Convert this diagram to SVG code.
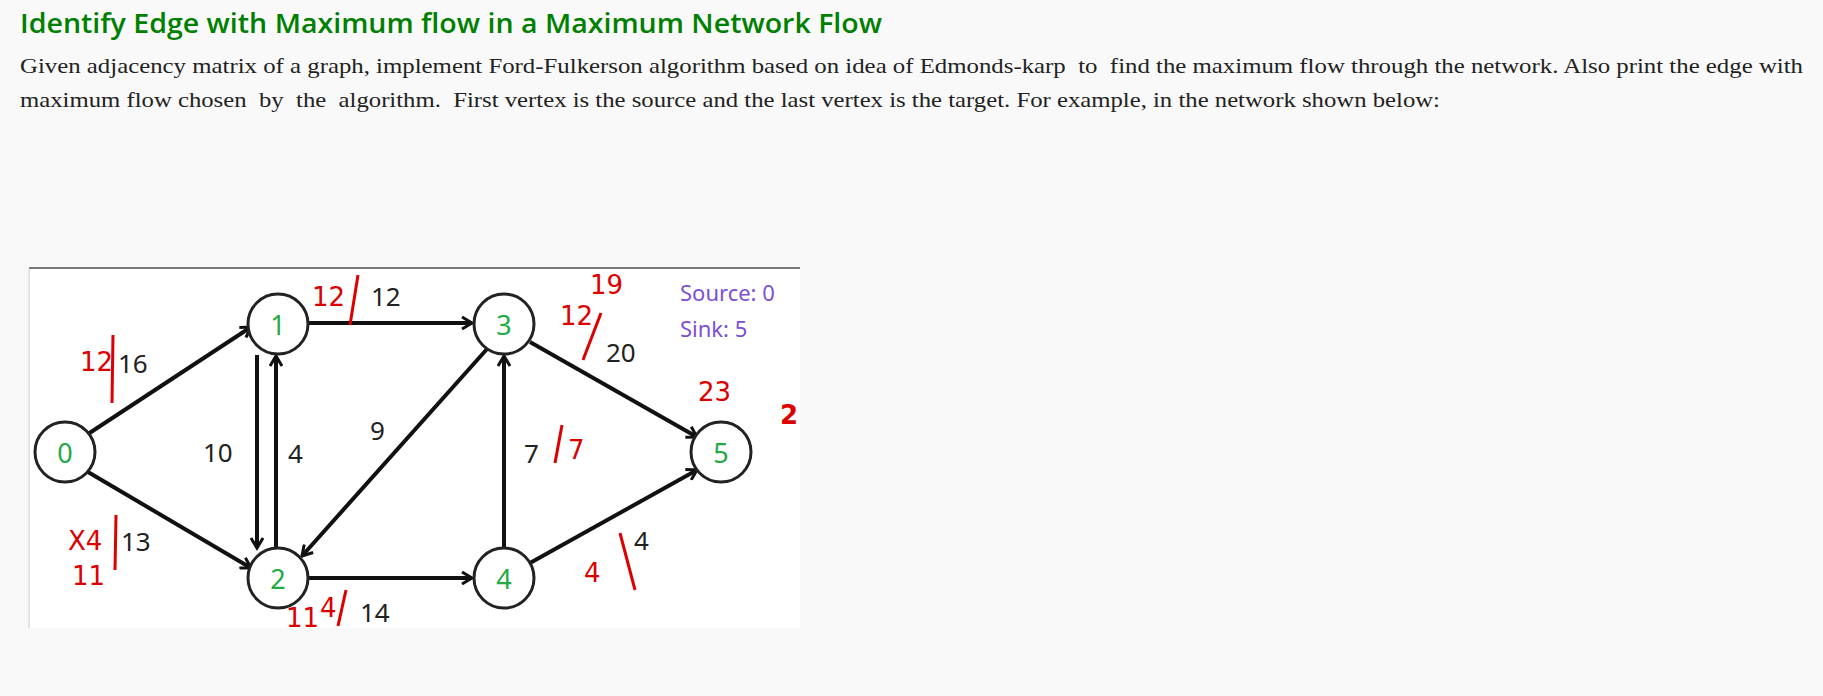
<svg xmlns="http://www.w3.org/2000/svg" width="1823" height="696" viewBox="0 0 1823 696">
<style>
.t{font-family:"Open Sans","Noto Sans",sans-serif;font-size:27px;font-weight:600;fill:#008000}
.p{font-family:"Liberation Serif",serif;font-size:22px;fill:#222;white-space:pre}
.n{fill:#fff;stroke:#222;stroke-width:3}
.nt{font-family:"Noto Sans","DejaVu Sans",sans-serif;font-size:27px;fill:#22aa44;text-anchor:middle;dominant-baseline:central}
.e{stroke:#111;stroke-width:4;fill:none;marker-end:url(#a)}
.l{font-family:"Noto Sans","DejaVu Sans",sans-serif;font-size:26px;fill:#222;dominant-baseline:central}
.r{font-family:"Comic Sans MS","DejaVu Sans",sans-serif;font-size:26px;fill:#d00;dominant-baseline:central}
.rl{stroke:#d00;stroke-width:3;fill:none}
.s{font-family:"Noto Sans","DejaVu Sans",sans-serif;font-size:22px;fill:#7b4fd6}
</style>
<defs><marker id="a" markerWidth="14" markerHeight="14" refX="11" refY="7" orient="auto" markerUnits="userSpaceOnUse"><path d="M1,1 L11,7 L1,13" fill="none" stroke="#111" stroke-width="3"/></marker></defs>
<rect width="1823" height="696" fill="#f9f9f9"/>
<text class="t" x="20" y="33" textLength="862" lengthAdjust="spacingAndGlyphs">Identify Edge with Maximum flow in a Maximum Network Flow</text>
<text class="p" x="20" y="73" textLength="1783" lengthAdjust="spacingAndGlyphs">Given adjacency matrix of a graph, implement Ford-Fulkerson algorithm based on idea of Edmonds-karp  to  find the maximum flow through the network. Also print the edge with</text>
<text class="p" x="20" y="107" textLength="1420" lengthAdjust="spacingAndGlyphs">maximum flow chosen  by  the  algorithm.  First vertex is the source and the last vertex is the target. For example, in the network shown below:</text>
<rect x="29" y="267" width="771" height="361" fill="#fff"/>
<line x1="29" y1="268" x2="800" y2="268" stroke="#777" stroke-width="2"/>
<line x1="29" y1="268" x2="29" y2="628" stroke="#ccc" stroke-width="1"/>
<g id="connectors">
<line class="e" x1="88" y1="434" x2="251" y2="327"/>
<line class="e" x1="88" y1="472" x2="251" y2="568"/>
<line class="e" x1="308" y1="323" x2="472" y2="323"/>
<line class="e" x1="308" y1="578" x2="472" y2="578"/>
<line class="e" x1="257" y1="355" x2="257" y2="548"/>
<line class="e" x1="276" y1="548" x2="276" y2="356"/>
<line class="e" x1="487" y1="349" x2="302" y2="556"/>
<line class="e" x1="504" y1="548" x2="504" y2="356"/>
<line class="e" x1="530" y1="342" x2="697" y2="437"/>
<line class="e" x1="530" y1="563" x2="697" y2="470"/>
</g>
<g id="node0"><circle class="n" cx="65" cy="452" r="30"/><text class="nt" x="65" y="452">0</text></g>
<g id="node1"><circle class="n" cx="278" cy="324" r="30"/><text class="nt" x="278" y="324">1</text></g>
<g id="node2"><circle class="n" cx="278" cy="578" r="30"/><text class="nt" x="278" y="578">2</text></g>
<g id="node3"><circle class="n" cx="504" cy="324" r="30"/><text class="nt" x="504" y="324">3</text></g>
<g id="node4"><circle class="n" cx="504" cy="578" r="30"/><text class="nt" x="504" y="578">4</text></g>
<g id="node5"><circle class="n" cx="721" cy="452" r="30"/><text class="nt" x="721" y="452">5</text></g>
<g id="labels">
<text class="l" x="118" y="363">16</text>
<text class="r" x="80" y="362">12</text>
<line class="rl" x1="113" y1="335" x2="112" y2="403"/>
<text class="l" x="121" y="541">13</text>
<text class="r" x="68" y="541">X4</text>
<text class="r" x="72" y="576" font-size="20">11</text>
<line class="rl" x1="116" y1="515" x2="115" y2="570"/>
<text class="l" x="203" y="452">10</text>
<text class="l" x="288" y="453">4</text>
<text class="l" x="370" y="430">9</text>
<text class="r" x="312" y="297">12</text>
<line class="rl" x1="358" y1="275" x2="350" y2="325"/>
<text class="l" x="371" y="296">12</text>
<text class="r" x="590" y="285" font-size="22">19</text>
<text class="r" x="560" y="316" font-size="20">12</text>
<line class="rl" x1="601" y1="313" x2="583" y2="360"/>
<text class="l" x="606" y="352">20</text>
<text class="r" x="698" y="392" font-size="30">23</text>
<text class="r" x="780" y="415" font-size="22" font-weight="bold">2</text>
<text class="l" x="524" y="453">7</text>
<line class="rl" x1="562" y1="425" x2="555" y2="463"/>
<text class="r" x="568" y="450" font-size="28">7</text>
<text class="r" x="584" y="573" font-size="30">4</text>
<line class="rl" x1="620" y1="533" x2="635" y2="590"/>
<text class="l" x="634" y="540">4</text>
<text class="r" x="286" y="618" font-size="20">11</text>
<text class="r" x="320" y="608">4</text>
<line class="rl" x1="346" y1="590" x2="338" y2="626"/>
<text class="l" x="360" y="612">14</text>
<text class="s" x="680" y="301">Source: 0</text>
<text class="s" x="680" y="337">Sink: 5</text>
</g>
</svg>
